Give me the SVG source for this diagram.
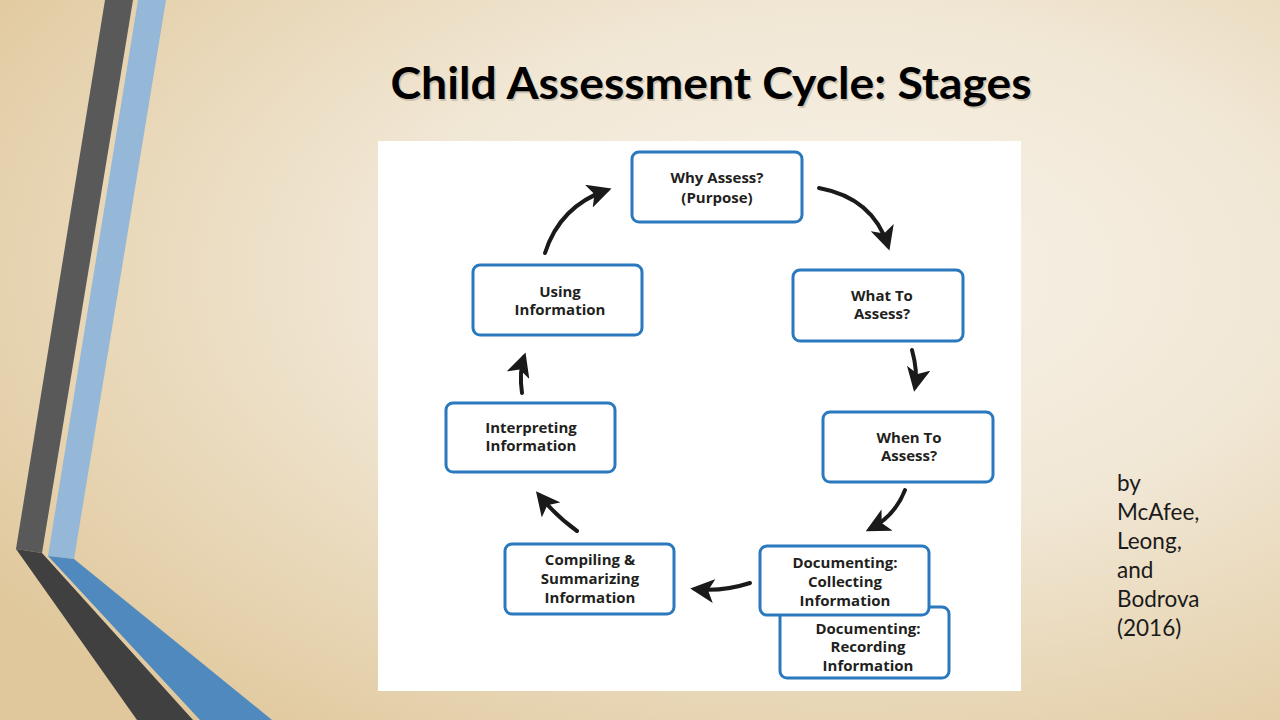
<svg xmlns="http://www.w3.org/2000/svg" width="1280" height="720" viewBox="0 0 1280 720">
<defs>
<radialGradient id="bg" cx="0.66" cy="0.38" r="0.8" fx="0.66" fy="0.38">
<stop offset="0" stop-color="#f7f2e8"/>
<stop offset="0.45" stop-color="#f1e7d5"/>
<stop offset="1" stop-color="#e0c89c"/>
</radialGradient>
<marker id="ah" viewBox="0 0 10 10" refX="8" refY="5" markerWidth="6" markerHeight="6" orient="auto" markerUnits="strokeWidth">
<path d="M0,0 L10,5 L0,10 L2.5,5 z" fill="#1a1a1a"/>
</marker>
<style>
.box{fill:#ffffff;stroke:#2a78be;stroke-width:3}
.lbl{font-family:"Open Sans","Liberation Sans",sans-serif;font-weight:bold;font-size:15px;fill:#231f20;text-anchor:middle}
.arr{fill:none;stroke:#1a1a1a;stroke-width:4;stroke-linecap:round;marker-end:url(#ah)}
.side{font-family:Lato,"Liberation Sans",sans-serif;font-size:22.5px;fill:#1a1a1a}
</style>
</defs>
<rect width="1280" height="720" fill="url(#bg)"/>
<g id="decor">
<polygon points="105,0 133,0 42,553 16,549" fill="#595959"/>
<polygon points="16,549 42,553 193,720 137,720" fill="#404040"/>
<polygon points="138,0 166,0 74,559 48,556" fill="#95b7d8"/>
<polygon points="48,556 74,559 272,720 200,720" fill="#5089be"/>
</g>
<g id="title">
<text x="712.5" y="100.5" font-family="Lato,'Liberation Sans',sans-serif" font-weight="bold" font-size="44" fill="#9a9080" opacity="0.4" text-anchor="middle" textLength="641" lengthAdjust="spacingAndGlyphs">Child Assessment Cycle: Stages</text>
<text x="711" y="99" font-family="Lato,'Liberation Sans',sans-serif" font-weight="bold" font-size="44" fill="#000000" text-anchor="middle" textLength="641" lengthAdjust="spacingAndGlyphs">Child Assessment Cycle: Stages</text>
</g>
<rect id="panel" x="378" y="141" width="643" height="550" fill="#ffffff"/>
<g id="n1"><rect class="box" x="632" y="152" width="170" height="70" rx="7"/><text class="lbl" x="717" y="183">Why Assess?</text><text class="lbl" x="717" y="203">(Purpose)</text></g>
<g id="n2"><rect class="box" x="793" y="270" width="170" height="71" rx="7"/><text class="lbl" x="882" y="301">What To</text><text class="lbl" x="882" y="319">Assess?</text></g>
<g id="n3"><rect class="box" x="823" y="412" width="170" height="70" rx="7"/><text class="lbl" x="909" y="443">When To</text><text class="lbl" x="909" y="461">Assess?</text></g>
<g id="n5"><rect class="box" x="780" y="607" width="169" height="71" rx="7"/><text class="lbl" x="868" y="634">Documenting:</text><text class="lbl" x="868" y="652">Recording</text><text class="lbl" x="868" y="671">Information</text></g>
<g id="n4"><rect class="box" x="760" y="546" width="169" height="69" rx="7"/><text class="lbl" x="845" y="568">Documenting:</text><text class="lbl" x="845" y="587">Collecting</text><text class="lbl" x="845" y="606">Information</text></g>
<g id="n6"><rect class="box" x="505" y="544" width="169" height="70" rx="7"/><text class="lbl" x="590" y="565">Compiling &amp;</text><text class="lbl" x="590" y="584">Summarizing</text><text class="lbl" x="590" y="603">Information</text></g>
<g id="n7"><rect class="box" x="446" y="403" width="169" height="69" rx="7"/><text class="lbl" x="531" y="433">Interpreting</text><text class="lbl" x="531" y="451">Information</text></g>
<g id="n8"><rect class="box" x="473" y="265" width="169" height="70" rx="7"/><text class="lbl" x="560" y="297">Using</text><text class="lbl" x="560" y="315">Information</text></g>
<g id="connectors">
<path class="arr" d="M819,188 Q873,198 888,246"/>
<path class="arr" d="M912,350 Q918,372 915,387"/>
<path class="arr" d="M905,490 Q895,516 870,529"/>
<path class="arr" d="M750,583 Q722,592 695,589"/>
<path class="arr" d="M577,531 Q556,516 539,495"/>
<path class="arr" d="M522,393 Q519,372 524,357"/>
<path class="arr" d="M545,253 Q560,206 607,190"/>
</g>
<g id="credit">
<text class="side" x="1117" y="491">by</text>
<text class="side" x="1117" y="520">McAfee,</text>
<text class="side" x="1117" y="549">Leong,</text>
<text class="side" x="1117" y="578">and</text>
<text class="side" x="1117" y="607">Bodrova</text>
<text class="side" x="1117" y="636">(2016)</text>
</g>
</svg>
